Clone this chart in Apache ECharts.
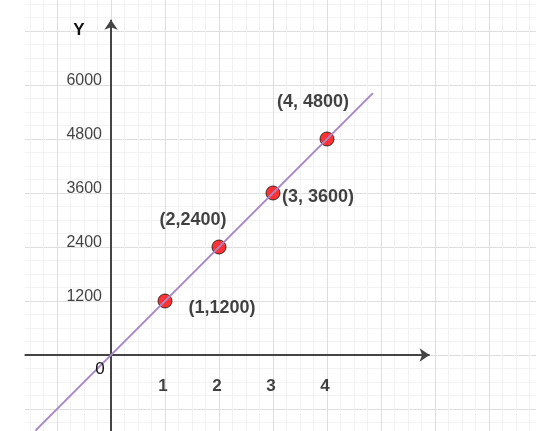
<!DOCTYPE html>
<html>
<head>
<meta charset="utf-8">
<style>
  html, body { margin: 0; padding: 0; background: #fff; }
  #chart { width: 553px; height: 431px; }
</style>
<script src="https://cdn.jsdelivr.net/npm/echarts@6/dist/echarts.min.js"></script>
</head>
<body>
<div id="chart"></div>
<script>
// points
const pointsX = [1, 2, 3, 4];
const pointsY = [1200, 2400, 3600, 4800];
const pointLabels = ["(1,1200)", "(2,2400)", "(3, 3600)", "(4, 4800)"];

// the straight line y = 1200x, its two visible ends
const lineX = [-1.4, 4.85];
const lineY = [-1680, 5820];

// tick labels that are shown
const xTickLabels = [1, 2, 3, 4];
const yTickLabels = [1200, 2400, 3600, 4800, 6000];

// label placement next to each point (px)
const labelOffsets = [[57, 7], [-26, -27], [45, 4], [-14, -37]];

const chart = echarts.init(document.getElementById("chart"));

const textColor = "#111";
const axisColor = "#444";
const font = "Liberation Sans, Arial";

chart.setOption({
  animation: false,
  backgroundColor: "#fff",
  grid: {
    left: 3,
    right: 10,
    top: -23,
    bottom: -32,
    containLabel: false,
    outerBoundsMode: "none",
  },
  xAxis: {
    type: "value",
    min: -2,
    max: 8,
    interval: 1,
    axisLine: { show: false },
    axisTick: { show: false },
    axisLabel: { show: false },
    splitLine: { show: true, lineStyle: { color: "#dedede", width: 1 } },
    minorTick: { show: false, splitNumber: 4 },
    minorSplitLine: { show: true, lineStyle: { color: "#f2f2f2", width: 1 } },
  },
  yAxis: {
    type: "value",
    min: -2400,
    max: 8400,
    interval: 1200,
    axisLine: { show: false },
    axisTick: { show: false },
    axisLabel: { show: false },
    splitLine: { show: true, lineStyle: { color: "#dedede", width: 1 } },
    minorTick: { show: false, splitNumber: 4 },
    minorSplitLine: { show: true, lineStyle: { color: "#f2f2f2", width: 1 } },
  },
  graphic: [
    { type: "rect", left: 0, top: 0, z: 1, shape: { width: 25, height: 431 }, style: { fill: "#fff" } },
    { type: "rect", left: 536, top: 0, z: 1, shape: { width: 17, height: 431 }, style: { fill: "#fff" } },
    {
      type: "text", x: 79, y: 30, z: 10,
      style: {
        text: "Y", fill: textColor, font: "bold 17px " + font,
        align: "center", verticalAlign: "middle",
      },
    },
    {
      type: "text", x: 100, y: 369, z: 10,
      style: {
        text: "0", fill: textColor, font: "17px " + font,
        align: "center", verticalAlign: "middle",
      },
    },
  ],
  series: [
    {
      name: "axes",
      type: "line",
      data: [],
      z: 3,
      silent: true,
      markLine: {
        silent: true,
        symbol: ["none", "arrow"],
        symbolSize: [10, 10],
        label: { show: false },
        itemStyle: { color: "#222" },
        lineStyle: { color: axisColor, width: 2, type: "solid" },
        data: [
          [{ coord: [-1.6, 0] }, { coord: [5.9, 0] }],
          [{ coord: [0, -1800] }, { coord: [0, 7450] }],
        ],
      },
    },
    {
      name: "xTicks",
      type: "scatter",
      z: 3,
      silent: true,
      symbolSize: 0,
      label: {
        show: true,
        position: "inside",
        offset: [-2, 31],
        color: textColor,
        textBorderWidth: 0,
        fontSize: 17,
        fontWeight: "bold",
        fontFamily: font,
        formatter: (p) => String(p.value[0]),
      },
      data: xTickLabels.map((v) => [v, 0]),
    },
    {
      name: "yTicks",
      type: "scatter",
      z: 3,
      silent: true,
      symbolSize: 0,
      label: {
        show: true,
        position: "left",
        distance: 9,
        offset: [0, -4],
        color: textColor,
        textBorderWidth: 0,
        fontSize: 16,
        fontFamily: font,
        formatter: (p) => String(p.value[1]),
      },
      data: yTickLabels.map((v) => [0, v]),
    },
    {
      name: "points",
      type: "scatter",
      z: 4,
      symbolSize: 14,
      itemStyle: { color: "#ff0000", borderColor: "#111", borderWidth: 1 },
      label: {
        show: true,
        position: "inside",
        color: textColor,
        textBorderWidth: 0,
        fontSize: 18,
        fontWeight: "bold",
        fontFamily: font,
      },
      data: pointsX.map((x, i) => ({
        value: [x, pointsY[i]],
        label: { formatter: pointLabels[i], offset: labelOffsets[i] },
      })),
    },
    {
      name: "line",
      type: "line",
      z: 5,
      showSymbol: false,
      symbol: "none",
      lineStyle: { color: "#a987c9", width: 2 },
      data: lineX.map((x, i) => [x, lineY[i]]),
    },
  ],
});
</script>
</body>
</html>
